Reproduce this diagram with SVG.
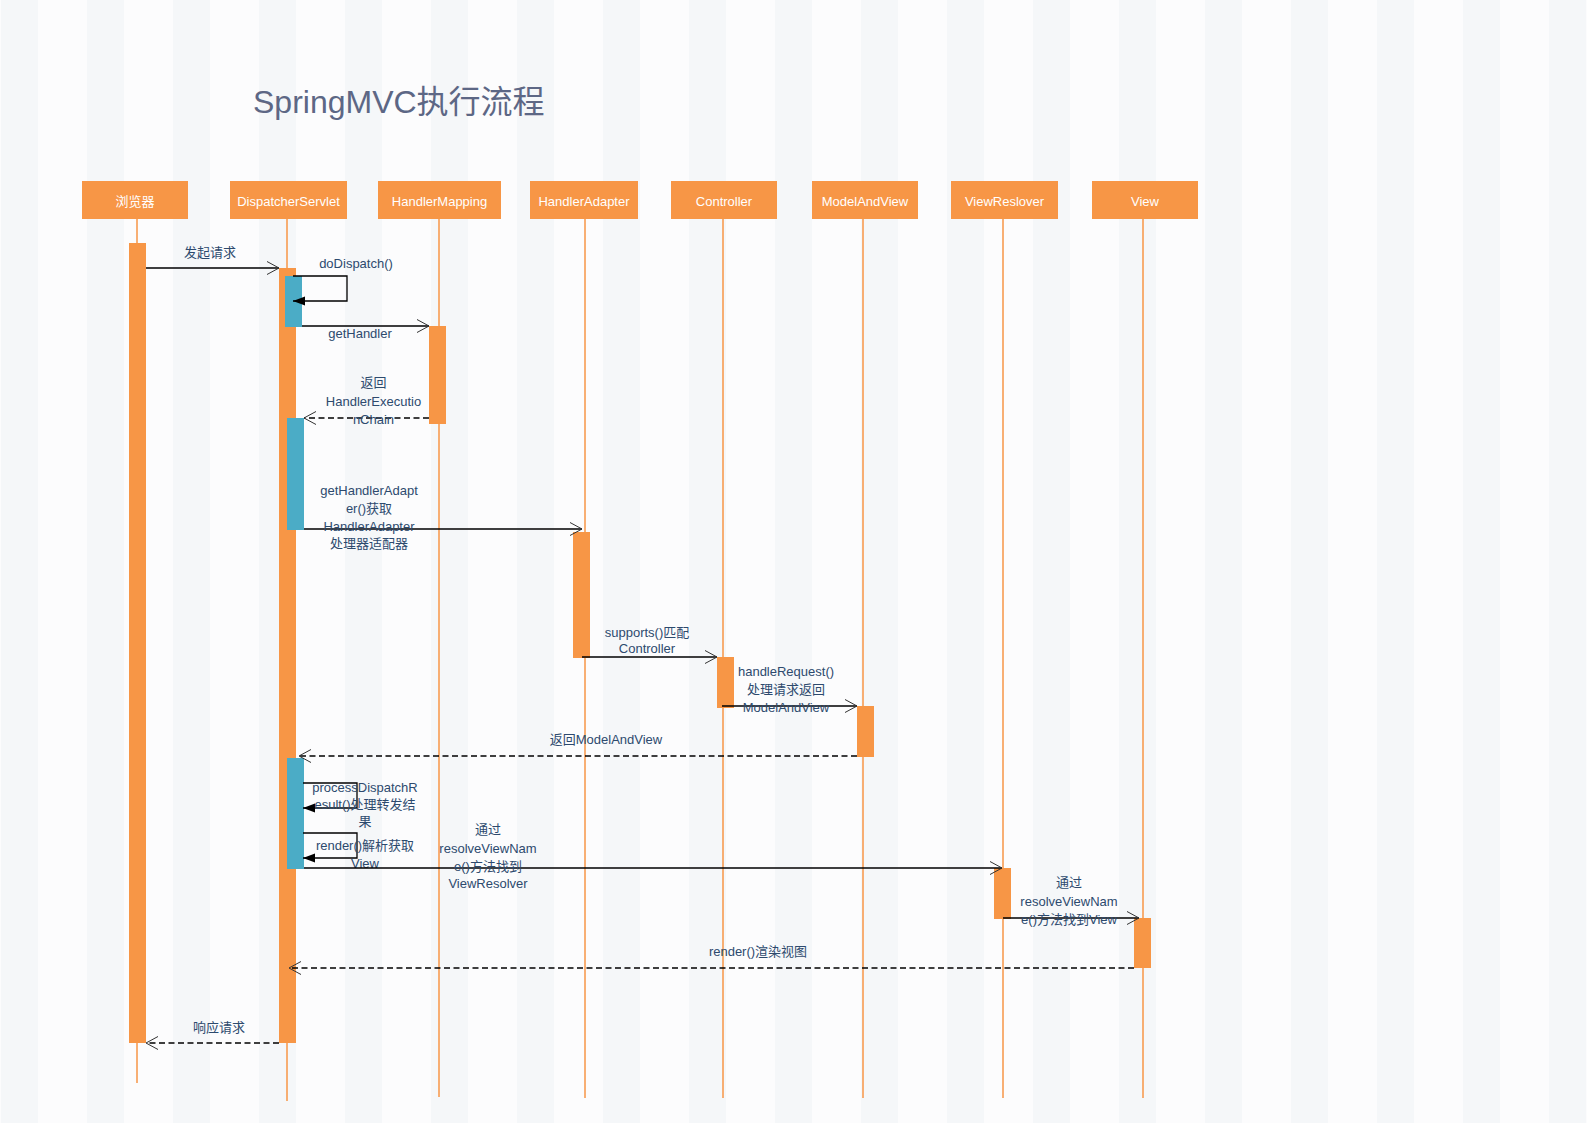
<svg xmlns="http://www.w3.org/2000/svg" width="1587" height="1123" viewBox="0 0 1587 1123">
<style>
.bg{fill:#fcfcfd}
.stripe{fill:#f5f7f9}
.head rect{fill:#f79646}
.head text{fill:#ffffff;font-family:"Liberation Sans","Noto Sans CJK SC",sans-serif;font-size:13px;text-anchor:middle}
.life{stroke:#f79646;stroke-width:1.5;fill:none}
.act{fill:#f79646}
.act2{fill:#4bacc6}
.msg{stroke:#000;stroke-width:1.3;fill:none}
.ret{stroke:#000;stroke-width:1.3;fill:none;stroke-dasharray:6 3.5}
.lbl{fill:#2d4a6e;font-family:"Liberation Sans","Noto Sans CJK SC",sans-serif;font-size:13px;text-anchor:middle}
.title{fill:#5d6785;font-family:"Liberation Sans","Noto Sans CJK SC",sans-serif;font-size:32px}
</style>
<defs>
<marker id="open" markerUnits="userSpaceOnUse" markerWidth="14" markerHeight="16" refX="12" refY="7" orient="auto">
<path d="M0,0.5 L12,7 L0,13.5" fill="none" stroke="#333" stroke-width="1"/>
</marker>
<marker id="fill" markerUnits="userSpaceOnUse" markerWidth="14" markerHeight="10" refX="12" refY="4.5" orient="auto">
<path d="M0,0 L12,4.5 L0,9 z" fill="#000"/>
</marker>
</defs>
<rect class="bg" x="0" y="0" width="1587" height="1123"/>
<g id="stripes">
<rect class="stripe" x="1" y="0" width="37" height="1123"/>
<rect class="stripe" x="87" y="0" width="37" height="1123"/>
<rect class="stripe" x="173" y="0" width="37" height="1123"/>
<rect class="stripe" x="259" y="0" width="37" height="1123"/>
<rect class="stripe" x="345" y="0" width="37" height="1123"/>
<rect class="stripe" x="431" y="0" width="37" height="1123"/>
<rect class="stripe" x="517" y="0" width="37" height="1123"/>
<rect class="stripe" x="603" y="0" width="37" height="1123"/>
<rect class="stripe" x="689" y="0" width="37" height="1123"/>
<rect class="stripe" x="775" y="0" width="37" height="1123"/>
<rect class="stripe" x="861" y="0" width="37" height="1123"/>
<rect class="stripe" x="947" y="0" width="37" height="1123"/>
<rect class="stripe" x="1033" y="0" width="37" height="1123"/>
<rect class="stripe" x="1119" y="0" width="37" height="1123"/>
<rect class="stripe" x="1205" y="0" width="37" height="1123"/>
<rect class="stripe" x="1291" y="0" width="37" height="1123"/>
<rect class="stripe" x="1377" y="0" width="37" height="1123"/>
<rect class="stripe" x="1463" y="0" width="37" height="1123"/>
<rect class="stripe" x="1549" y="0" width="37" height="1123"/>
</g>
<text class="title" x="253" y="113">SpringMVC执行流程</text>

<g id="browser">
<g class="head"><rect x="82" y="181" width="106" height="38"/><text x="135" y="206">浏览器</text></g>
<line class="life" x1="137" y1="219" x2="137" y2="1083"/>
<rect class="act" x="129" y="243" width="17" height="800"/>
</g>
<g id="dispatcher">
<g class="head"><rect x="230" y="181" width="117" height="38"/><text x="288.5" y="206">DispatcherServlet</text></g>
<line class="life" x1="287" y1="219" x2="287" y2="1101"/>
<rect class="act" x="279" y="268" width="17" height="775"/>
<rect class="act2" x="285" y="276" width="17" height="51"/>
<rect class="act2" x="287" y="418" width="17" height="112"/>
<rect class="act2" x="287" y="758" width="17" height="111"/>
</g>
<g id="handlermapping">
<g class="head"><rect x="378" y="181" width="123" height="38"/><text x="439.5" y="206">HandlerMapping</text></g>
<line class="life" x1="439" y1="219" x2="439" y2="1097"/>
<rect class="act" x="429" y="326" width="17" height="98"/>
</g>
<g id="handleradapter">
<g class="head"><rect x="530" y="181" width="108" height="38"/><text x="584" y="206">HandlerAdapter</text></g>
<line class="life" x1="585" y1="219" x2="585" y2="1098"/>
<rect class="act" x="573" y="532" width="17" height="126"/>
</g>
<g id="controller">
<g class="head"><rect x="671" y="181" width="106" height="38"/><text x="724" y="206">Controller</text></g>
<line class="life" x1="723" y1="219" x2="723" y2="1098"/>
<rect class="act" x="717" y="657" width="17" height="51"/>
</g>
<g id="modelandview">
<g class="head"><rect x="812" y="181" width="106" height="38"/><text x="865" y="206">ModelAndView</text></g>
<line class="life" x1="863" y1="219" x2="863" y2="1098"/>
<rect class="act" x="857" y="706" width="17" height="51"/>
</g>
<g id="viewreslover">
<g class="head"><rect x="951" y="181" width="107" height="38"/><text x="1004.5" y="206">ViewReslover</text></g>
<line class="life" x1="1003" y1="219" x2="1003" y2="1098"/>
<rect class="act" x="994" y="868" width="17" height="51"/>
</g>
<g id="view">
<g class="head"><rect x="1092" y="181" width="106" height="38"/><text x="1145" y="206">View</text></g>
<line class="life" x1="1143" y1="219" x2="1143" y2="1098"/>
<rect class="act" x="1134" y="918" width="17" height="50"/>
</g>

<g id="connectors">
<line class="msg" x1="146" y1="268" x2="279" y2="268" marker-end="url(#open)"/>
<text class="lbl" x="210" y="256.5">发起请求</text>

<path class="msg" d="M293,276 H347 V301 H293" marker-end="url(#fill)"/>
<text class="lbl" x="356" y="268">doDispatch()</text>

<line class="msg" x1="302" y1="326" x2="429" y2="326" marker-end="url(#open)"/>
<text class="lbl" x="360" y="338">getHandler</text>

<line class="ret" x1="429" y1="418" x2="304" y2="418" marker-end="url(#open)"/>
<text class="lbl" x="373.5" y="387">返回<tspan x="373.5" dy="18.5">HandlerExecutio</tspan><tspan x="373.5" dy="18">nChain</tspan></text>

<line class="msg" x1="304" y1="529" x2="582" y2="529" marker-end="url(#open)"/>
<text class="lbl" x="369" y="495">getHandlerAdapt<tspan x="369" dy="18">er()获取</tspan><tspan x="369" dy="17.5">HandlerAdapter</tspan><tspan x="369" dy="17.8">处理器适配器</tspan></text>

<line class="msg" x1="582" y1="657" x2="717" y2="657" marker-end="url(#open)"/>
<text class="lbl" x="647" y="636.5">supports()匹配<tspan x="647" dy="16.7">Controller</tspan></text>

<line class="msg" x1="722" y1="706" x2="857" y2="706" marker-end="url(#open)"/>
<text class="lbl" x="786" y="675.5">handleRequest()<tspan x="786" dy="18">处理请求返回</tspan><tspan x="786" dy="18">ModelAndView</tspan></text>

<line class="ret" x1="857" y1="756" x2="299" y2="756" marker-end="url(#open)"/>
<text class="lbl" x="606" y="743.5">返回ModelAndView</text>

<path class="msg" d="M303,783 H357 V808 H303" marker-end="url(#fill)"/>
<text class="lbl" x="365" y="791.5">processDispatchR<tspan x="365" dy="17">esult()处理转发结</tspan><tspan x="365" dy="17.5">果</tspan></text>

<path class="msg" d="M303,833 H357 V858 H303" marker-end="url(#fill)"/>
<text class="lbl" x="365" y="850">render()解析获取<tspan x="365" dy="18">View</tspan></text>

<line class="msg" x1="304" y1="868" x2="1002" y2="868" marker-end="url(#open)"/>
<text class="lbl" x="488" y="834">通过<tspan x="488" dy="18.5">resolveViewNam</tspan><tspan x="488" dy="18">e()方法找到</tspan><tspan x="488" dy="17.5">ViewResolver</tspan></text>

<line class="msg" x1="1003" y1="918" x2="1139" y2="918" marker-end="url(#open)"/>
<text class="lbl" x="1069" y="887">通过<tspan x="1069" dy="19">resolveViewNam</tspan><tspan x="1069" dy="17.5">e()方法找到View</tspan></text>

<line class="ret" x1="1134" y1="968" x2="289" y2="968" marker-end="url(#open)"/>
<text class="lbl" x="758" y="955.5">render()渲染视图</text>

<line class="ret" x1="279" y1="1043" x2="146" y2="1043" marker-end="url(#open)"/>
<text class="lbl" x="219" y="1031.5">响应请求</text>
</g>
</svg>
